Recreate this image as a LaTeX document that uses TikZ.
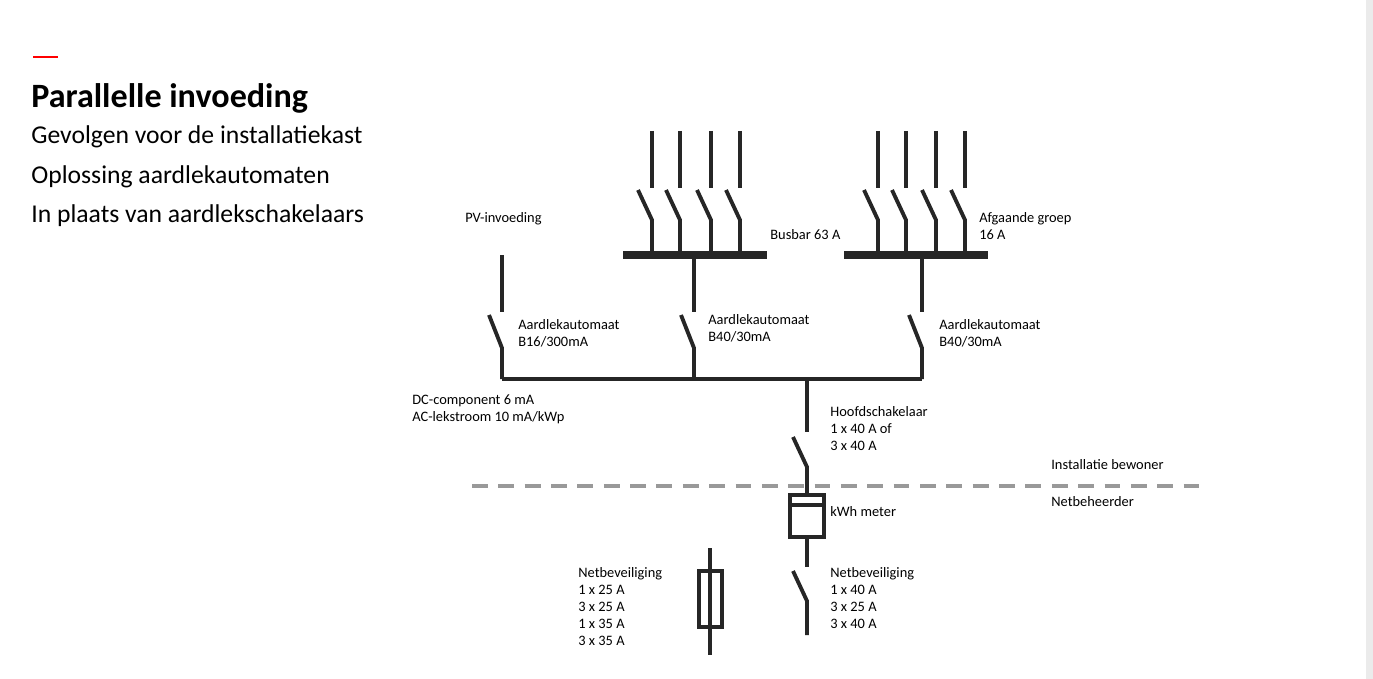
\documentclass[tikz,border=0pt]{standalone}
\usepackage{fontspec}
\setmainfont{Carlito}
\begin{document}
\begin{tikzpicture}[x=0.02cm,y=-0.02cm,
 w/.style={line width=2.2pt,color=black!85},
 bus/.style={line width=4.5pt,color=black!85},
 lbl/.style={anchor=north west,font=\fontsize{8.2}{9.7}\selectfont,align=left,inner sep=0pt},
 big/.style={anchor=west,font=\fontsize{14.6}{18}\selectfont,inner sep=0pt}]
\useasboundingbox (0,0) rectangle (1373,679);
\fill[black!8] (1366,0) rectangle (1373,679);
\draw[red,line width=1.5pt] (33,57) -- (58,57);
\node[big,font=\fontsize{19.4}{22}\bfseries] (t) at (31,98) {Parallelle invoeding};
\node[big] (t1) at (31,137) {Gevolgen voor de installatiekast};
\node[big] (t2) at (31,177) {Oplossing aardlekautomaten};
\node[big] (t3) at (31,216) {In plaats van aardlekschakelaars};
% busbars
\draw[bus] (623,255) -- (767,255);
\draw[bus] (844,255) -- (988,255);
\foreach \x in {652,680,711,740,878,906,936,965}{
 \draw[w] (\x,131) -- (\x,188);
 \draw[w] (\x-14,190) -- (\x,220) -- (\x,255);
}
% breakers
\foreach \x in {502,694,922}{
 \draw[w] (\x,255) -- (\x,312);
 \draw[w] (\x-13,315) -- (\x,348) -- (\x,379);
}
\draw[w] (502,379) -- (922,379);
\draw[w] (807,379) -- (807,432);
\draw[w] (793,437) -- (807,467) -- (807,495);
\draw[black!40,line width=1.8pt,dash pattern=on 9pt off 6pt] (472,486) -- (1200,486);
\draw[w,fill=white] (790,495) rectangle (824,537);
\draw[w] (790,505) -- (824,505);
\draw[w] (807,537) -- (807,567);
\draw[w] (793,571) -- (807,601) -- (807,635);
\draw[w] (710,548) -- (710,655);
\draw[w] (699,571) rectangle (722,627);
% labels
\node[lbl] (l1) at (465,212) {PV-invoeding};
\node[lbl] (l2) at (770,229) {Busbar 63 A};
\node[lbl] (l3) at (979,212) {Afgaande groep\\16 A};
\node[lbl] (l4) at (518,319) {Aardlekautomaat\\B16/300mA};
\node[lbl] (l5) at (708,314) {Aardlekautomaat\\B40/30mA};
\node[lbl] (l6) at (939,319) {Aardlekautomaat\\B40/30mA};
\node[lbl] (l7) at (412,394) {DC-component 6 mA\\AC-lekstroom 10 mA/kWp};
\node[lbl] (l8) at (830,406) {Hoofdschakelaar\\1 x 40 A of\\3 x 40 A};
\node[lbl] (l9) at (1051,459) {Installatie bewoner};
\node[lbl] (l10) at (1051,496) {Netbeheerder};
\node[lbl] (l11) at (830,506) {kWh meter};
\node[lbl] (l12) at (830,567) {Netbeveiliging\\1 x 40 A\\3 x 25 A\\3 x 40 A};
\node[lbl] (l13) at (578,567) {Netbeveiliging\\1 x 25 A\\3 x 25 A\\1 x 35 A\\3 x 35 A};
\end{tikzpicture}
\end{document}
